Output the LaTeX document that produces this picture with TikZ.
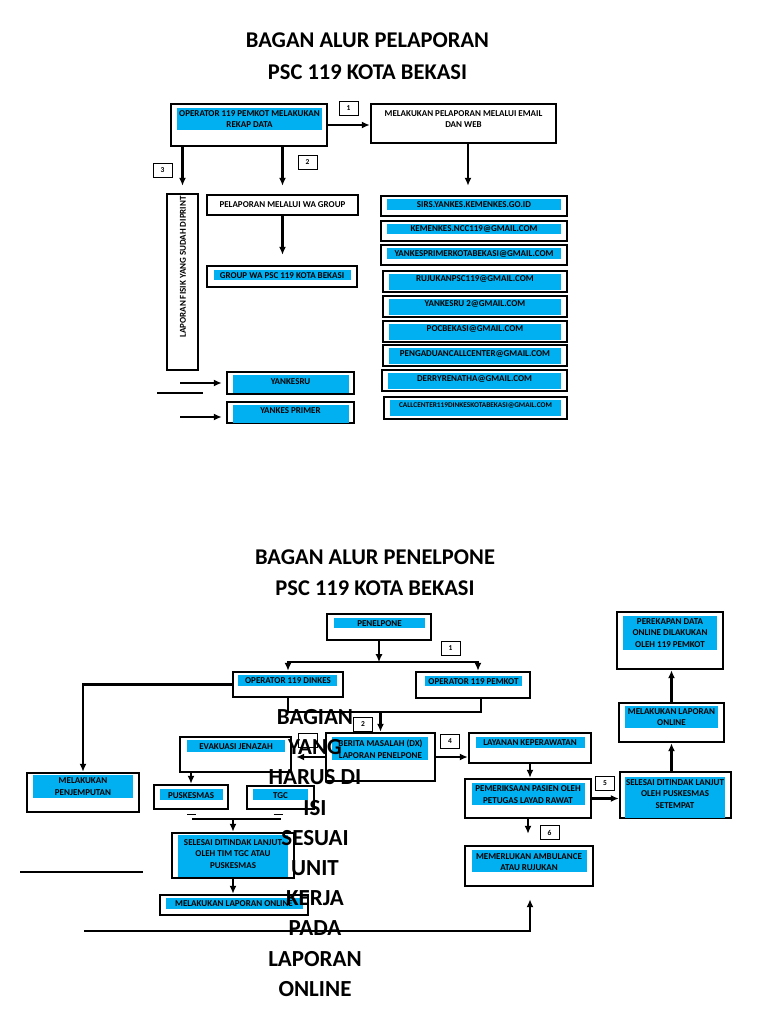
\documentclass[tikz,border=0pt]{standalone}
\usepackage{fontspec}
\setmainfont{Carlito}
\usetikzlibrary{arrows.meta,calc}
\definecolor{boxblue}{RGB}{0,176,240}
\tikzset{
 obox/.style={draw, line width=2.4pt, fill=white, inner sep=0pt},
 bluef/.style={fill=boxblue},
 txt/.style={font=\bfseries\fontsize{9}{11.5}\selectfont, align=center, inner sep=0pt},
 smalltxt/.style={font=\bfseries\fontsize{7.3}{9}\selectfont, align=center, inner sep=0pt},
 numbox/.style={draw, line width=0.8pt, fill=white, minimum width=19pt, minimum height=14pt, inner sep=0pt, font=\bfseries\fontsize{7.5}{8}\selectfont},
 ttl/.style={font=\bfseries\fontsize{22.5}{27}\selectfont, inner sep=0pt},
 bigover/.style={font=\bfseries\fontsize{23}{30.2}\selectfont, align=center, inner sep=0pt},
 arr/.style={line width=2.2pt, -{Latex[length=8pt,width=7pt]}},
 ln/.style={line width=2.2pt},
}
\newcommand\boxat[5]{\node[obox, minimum width={#4-#2}, minimum height={#5-#3}] (#1) at ({(#2+#4)/2},{(#3+#5)/2}) {};}
\newcommand\bluer[4]{\fill[bluef] (#1,#2) rectangle (#3,#4);}
\begin{document}
\begin{tikzpicture}[x=1pt,y=-1pt]
\fill[white] (0,0) rectangle (768,1024);
\useasboundingbox (0,0) rectangle (768,1024);

% ---------------- TOP ----------------
\node[ttl] (t1) at (367.5,40.5) {BAGAN ALUR PELAPORAN};
\node[ttl] (t2) at (367.5,72) {PSC 119 KOTA BEKASI};

\boxat{op}{171}{104}{327}{146}
\bluer{177}{108}{322}{130}
\node[txt] (opT) at (249.5,119) {OPERATOR 119 PEMKOT MELAKUKAN\\REKAP DATA};

\boxat{em}{371}{104}{556}{143}
\node[txt] (emT) at (463.5,119) {MELAKUKAN PELAPORAN MELALUI EMAIL\\DAN WEB};

\boxat{lap}{167}{194}{198}{370}
\node[txt, rotate=90] (lapT) at (183,267) {LAPORAN FISIK YANG SUDAH DIPRINT};

\boxat{wa}{207}{195}{358}{215}
\node[txt] (waT) at (282.5,205) {PELAPORAN MELALUI WA GROUP};

\boxat{gw}{207}{266}{357}{287}
\bluer{214}{270}{351}{280}
\node[txt] (gwT) at (282,275.5) {GROUP WA PSC 119 KOTA BEKASI};

\boxat{yk}{227}{372}{354}{394}
\bluer{233}{375}{349}{393}
\node[txt] (ykT) at (290.5,381.5) {YANKESRU};

\boxat{yp}{227}{402}{354}{423}
\bluer{233}{405}{349}{423}
\node[txt] (ypT) at (290.5,410.5) {YANKES PRIMER};

\boxat{e1}{381}{196}{567}{216}
\bluer{387}{199}{561}{210}
\node[txt] (e1T) at (474,204.5) {SIRS.YANKES.KEMENKES.GO.ID};
\boxat{e2}{381}{221}{567}{241}
\bluer{387}{224}{561}{234}
\node[txt] (e2T) at (474,229.5) {KEMENKES.NCC119@GMAIL.COM};
\boxat{e3}{381}{245}{567}{265}
\bluer{387}{248}{561}{259}
\node[txt] (e3T) at (474,254.5) {YANKESPRIMERKOTABEKASI@GMAIL.COM};
\boxat{e4}{383}{271}{567}{292}
\bluer{389}{274}{561}{290}
\node[txt] (e4T) at (475,279.5) {RUJUKANPSC119@GMAIL.COM};
\boxat{e5}{383}{296}{567}{317}
\bluer{389}{299}{561}{315}
\node[txt] (e5T) at (475,304.5) {YANKESRU 2@GMAIL.COM};
\boxat{e6}{383}{321}{567}{342}
\bluer{389}{324}{561}{340}
\node[txt] (e6T) at (475,329.5) {POCBEKASI@GMAIL.COM};
\boxat{e7}{383}{345}{567}{366}
\bluer{389}{348}{561}{364}
\node[txt] (e7T) at (475,354.5) {PENGADUANCALLCENTER@GMAIL.COM};
\boxat{e8}{382}{370}{567}{391}
\bluer{388}{373}{561}{389}
\node[txt] (e8T) at (474.5,379.5) {DERRYRENATHA@GMAIL.COM};
\boxat{e9}{384}{397}{567}{419}
\bluer{390}{400}{561}{416}
\node[smalltxt] (e9T) at (475.5,405.5) {CALLCENTER119DINKESKOTABEKASI@GMAIL.COM};

\node[numbox] (l1) at (348.5,108) {1};
\node[numbox] (l2) at (307.5,162.5) {2};
\node[numbox] (l3) at (162.5,170) {3};

\draw[arr] (op.east) -- (op.east -| em.west);
\draw[arr] (op.south -| lap.north) -- ($(lap.north)+(0,-7)$);
\draw[arr] (op.south -| wa.north) -- ($(wa.north)+(0,-8)$);
\draw[arr] ($(e1.north |- em.south)+(-6,0)$) -- ($(e1.north)+(-6,-9)$);
\draw[arr] (wa.south) -- ($(wa.south |- gw.north)+(0,-10)$);
\coordinate (ya1) at (180,383);
\coordinate (ya2) at (180,417);
\draw[arr] (ya1) -- ($(ya1 -| yk.west)+(-4,0)$);
\draw[arr] (ya2) -- ($(ya2 -| yp.west)+(-4,0)$);
\coordinate (yl1) at (157,393);
\coordinate (yl2) at (203,393);
\draw[ln] (yl1) -- (yl2);

% ---------------- BOTTOM ----------------
\node[ttl] (t3) at (375,557) {BAGAN ALUR PENELPONE};
\node[ttl] (t4) at (375,588) {PSC 119 KOTA BEKASI};

\boxat{pen}{327}{614}{431}{640}
\bluer{334}{618}{425}{628}
\node[txt] (penT) at (379.5,623.5) {PENELPONE};

\boxat{din}{233}{672}{343}{697}
\bluer{238}{675}{337}{686}
\node[txt] (dinT) at (288,681) {OPERATOR 119 DINKES};

\boxat{pem}{416}{672}{530}{698}
\bluer{425}{676}{522}{686}
\node[txt] (pemT) at (473.5,681.5) {OPERATOR 119 PEMKOT};

\boxat{pj}{27}{773}{139}{812}
\bluer{33}{775}{133}{798}
\node[txt] (pjT) at (83,786.5) {MELAKUKAN\\PENJEMPUTAN};

\boxat{ev}{180}{737}{291}{772}
\bluer{187}{740}{285}{752}
\node[txt] (evT) at (236,746.5) {EVAKUASI JENAZAH};

\boxat{ber}{326}{733}{435}{781}
\bluer{332}{737}{428}{760}
\node[txt] (berT) at (380.5,749) {BERITA MASALAH (DX)\\LAPORAN PENELPONE};

\boxat{lay}{469}{733}{591}{763}
\bluer{476}{737}{585}{748}
\node[txt] (layT) at (530,743) {LAYANAN KEPERAWATAN};

\boxat{pm}{465}{779}{591}{818}
\bluer{472}{783}{585}{805}
\node[txt] (pmT) at (528,794.5) {PEMERIKSAAN PASIEN OLEH\\PETUGAS LAYAD RAWAT};

\boxat{sl}{620}{772}{731}{818}
\bluer{625}{777}{725}{818}
\node[txt] (slT) at (675,794) {SELESAI DITINDAK LANJUT\\OLEH PUSKESMAS\\SETEMPAT};

\boxat{lo}{619}{703}{724}{742}
\bluer{625}{706}{718}{728}
\node[txt] (loT) at (671.5,717) {MELAKUKAN LAPORAN\\ONLINE};

\boxat{pr}{617}{612}{723}{669}
\bluer{623}{616}{717}{650}
\node[txt] (prT) at (670,633) {PEREKAPAN DATA\\ONLINE DILAKUKAN\\OLEH 119 PEMKOT};

\boxat{amb}{465}{846}{593}{886}
\bluer{472}{850}{587}{872}
\node[txt] (ambT) at (529,862) {MEMERLUKAN AMBULANCE\\ATAU RUJUKAN};

\boxat{pk}{154}{785}{228}{809}
\bluer{160}{789}{223}{800}
\node[txt] (pkT) at (191,795.5) {PUSKESMAS};

\boxat{tgc}{247}{786}{314}{809}
\bluer{253}{789}{308}{800}
\node[txt] (tgcT) at (280.5,795.5) {TGC};

\boxat{sd}{172}{833}{294}{878}
\bluer{178}{835}{288}{877}
\node[txt] (sdT) at (233,854) {SELESAI DITINDAK LANJUT\\OLEH TIM TGC ATAU\\PUSKESMAS};

\boxat{lo2}{160}{895}{308}{915}
\bluer{166}{898}{303}{909}
\node[txt] (lo2T) at (234,904) {MELAKUKAN LAPORAN ONLINE};

\node[numbox] (lb1) at (450.5,648) {1};
\node[numbox] (lb2) at (363,724.5) {2};
\node[numbox] (lb3) at (307.5,740) {};
\node[numbox] (lb4) at (450,741) {4};
\node[numbox] (lb5) at (605,783.5) {5};
\node[numbox] (lb6) at (549.5,832.5) {6};

\coordinate (split) at ($(pen.south)+(0,21)$);
\draw[arr] (pen.south) -- (split);
\draw[arr] (split) -| (din.north);
\draw[arr] (split) -| ($(pem.north)+(5,0)$);
\draw[arr, line width=2.8pt] (din.west) -| (pj.north);
\coordinate (mrg) at ($(ber.north)+(0,-20)$);
\draw[ln] (din.south) |- ($(pem.south |- mrg)+(8,0)$) -- ($(pem.south)+(8,0)$);
\draw[arr] (mrg) -- (ber.north);
\draw[arr] (ber.west) -- ($(ber.west -| ev.east)+(4,0)$);
\draw[arr] (ber.east) -- (ber.east -| lay.west);
\draw[arr] (lay.south) -- (lay.south |- pm.north);
\draw[arr] (pm.east) -- (pm.east -| sl.west);
\draw[arr] (sl.north -| lo.south) -- (lo.south);
\draw[arr] (lo.north) -- (lo.north |- pr.south);
\draw[arr] (pm.south) -- ($(pm.south |- amb.north)+(0,-11)$);
\draw[arr] (ev.south -| pk.north) -- (pk.north);
\draw[line width=1.2pt] ($(pk.south)+(-4,4)$) -- ($(pk.south)+(5,4)$);
\draw[line width=1.2pt] ($(tgc.south)+(-7,4)$) -- ($(tgc.south)+(2,4)$);
\coordinate (j1) at ($(pk.south)+(1,9)$);
\coordinate (j2) at ($(tgc.south)+(0,9)$);
\draw[ln] (j1) -- (j2);
\draw[arr] (sd.north |- j1) -- (sd.north);
\draw[arr] (sd.south) -- (sd.south |- lo2.north);
\coordinate (h1) at (20,872);
\coordinate (h2) at (143,872);
\draw[ln] (h1) -- (h2);
\coordinate (b1) at (84,931);
\draw[arr] (b1) -| ($(amb.south)+(1,12)$);

\node[bigover] (ov) at (315,852.9) {BAGIAN\\YANG\\HARUS DI\\ISI\\SESUAI\\UNIT\\KERJA\\PADA\\LAPORAN\\ONLINE};
\end{tikzpicture}
\end{document}
